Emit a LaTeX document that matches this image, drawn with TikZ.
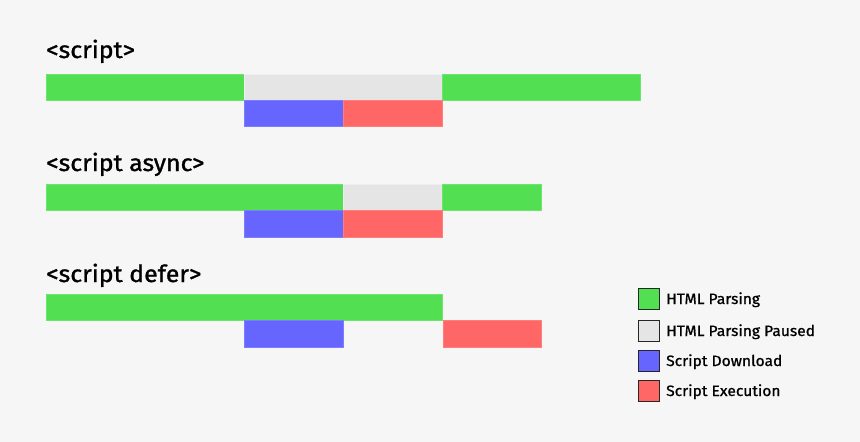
\documentclass[tikz,border=0pt]{standalone}
\usepackage{fontspec}
\setmainfont{Fira Sans}
\newfontfamily\titlefont[FakeStretch=1.06,FakeBold=1.2]{Fira Sans}
\newfontfamily\legfont[FakeStretch=1.04,FakeBold=0.9]{Fira Sans}
\definecolor{bg}{RGB}{246,246,246}
\definecolor{parse}{RGB}{82,224,82}
\definecolor{paused}{RGB}{229,229,229}
\definecolor{download}{RGB}{102,102,255}
\definecolor{exec}{RGB}{255,102,102}
\begin{document}
\begin{tikzpicture}[x=1pt,y=-1pt,
  bar/.style={line width=0.8pt},
  pbar/.style={bar,fill=parse,draw=parse!85!white},
  gbar/.style={bar,fill=paused,draw=paused!60!white},
  dbar/.style={bar,fill=download,draw=download!85!white},
  ebar/.style={bar,fill=exec,draw=exec!85!white},
  title/.style={anchor=base west,inner sep=0pt,text=black,font=\titlefont\fontsize{23.5}{25}\selectfont},
  legbox/.style={draw=black!85,line width=0.9pt},
  legtext/.style={anchor=base west,inner sep=0pt,text=black,font=\legfont\fontsize{15}{18}\selectfont}]
\fill[bg] (0,0) rectangle (860,442);
\useasboundingbox (0,0) rectangle (860,442);
% Row 1
\node[title] (t1) at (46,58) {<script>};
\draw[pbar] (46,74) rectangle (244,100);
\draw[gbar] (244,74) rectangle (442,100);
\draw[pbar] (442,74) rectangle (640,100);
\draw[dbar] (244,100) rectangle (343,126);
\draw[ebar] (343,100) rectangle (442,126);
% Row 2
\node[title] (t2) at (46,171) {<script async>};
\draw[pbar] (46,184) rectangle (343,210);
\draw[gbar] (343,184) rectangle (442,210);
\draw[pbar] (442,184) rectangle (541,210);
\draw[dbar] (244,210) rectangle (343,237);
\draw[ebar] (343,210) rectangle (442,237);
% Row 3
\node[title] (t3) at (46,282) {<script defer>};
\draw[pbar] (46,294) rectangle (442,320);
\draw[dbar] (244,320) rectangle (343,347);
\draw[ebar] (443,320) rectangle (541,347);
% Legend
\draw[legbox,fill=parse] (638,288) rectangle (659,309);
\node[legtext] (l1) at (666,304) {HTML Parsing};
\draw[legbox,fill=paused] (638,320) rectangle (659,341);
\node[legtext] (l2) at (666,336) {HTML Parsing Paused};
\draw[legbox,fill=download] (638,350) rectangle (659,371);
\node[legtext] (l3) at (666,366) {Script Download};
\draw[legbox,fill=exec] (638,380) rectangle (659,401);
\node[legtext] (l4) at (666,396) {Script Execution};
\end{tikzpicture}
\end{document}
